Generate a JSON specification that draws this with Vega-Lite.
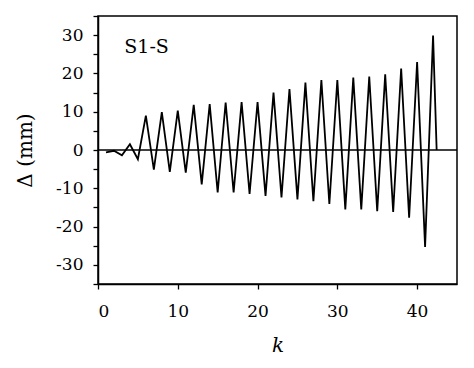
{
  "$schema": "https://vega.github.io/schema/vega-lite/v6.json",
  "width": 359,
  "height": 268,
  "autosize": {"type": "none"},
  "padding": {"left": 98, "top": 16, "right": 17, "bottom": 84},
  "background": "white",
  "config": {
    "view": {"stroke": "black", "strokeWidth": 1.5},
    "font": "DejaVu Serif",
    "axis": {
      "domainColor": "black",
      "domainWidth": 1.5,
      "tickColor": "black",
      "tickWidth": 1.3,
      "tickSize": 5,
      "grid": false,
      "labelFont": "DejaVu Serif",
      "labelFontSize": 17,
      "labelColor": "black",
      "titleFont": "DejaVu Serif",
      "titleFontSize": 20,
      "titleFontWeight": "normal",
      "titleColor": "black"
    }
  },
  "datasets": {
    "disp": [
      {"k": 1, "d": -0.6}, {"k": 2, "d": -0.2}, {"k": 3, "d": -1.4}, {"k": 4, "d": 1.5},
      {"k": 5, "d": -2.4}, {"k": 6, "d": 9.0}, {"k": 7, "d": -5.1}, {"k": 8, "d": 9.9},
      {"k": 9, "d": -5.7}, {"k": 10, "d": 10.3}, {"k": 11, "d": -5.9}, {"k": 12, "d": 11.8},
      {"k": 13, "d": -9.0}, {"k": 14, "d": 12.0}, {"k": 15, "d": -11.1}, {"k": 16, "d": 12.4},
      {"k": 17, "d": -11.1}, {"k": 18, "d": 12.5}, {"k": 19, "d": -11.5}, {"k": 20, "d": 12.5},
      {"k": 21, "d": -12.0}, {"k": 22, "d": 15.0}, {"k": 23, "d": -12.4}, {"k": 24, "d": 15.9},
      {"k": 25, "d": -12.9}, {"k": 26, "d": 17.6}, {"k": 27, "d": -13.4}, {"k": 28, "d": 18.3},
      {"k": 29, "d": -14.1}, {"k": 30, "d": 18.3}, {"k": 31, "d": -15.5}, {"k": 32, "d": 18.9},
      {"k": 33, "d": -15.5}, {"k": 34, "d": 19.2}, {"k": 35, "d": -16.0}, {"k": 36, "d": 19.8},
      {"k": 37, "d": -16.2}, {"k": 38, "d": 21.3}, {"k": 39, "d": -17.7}, {"k": 40, "d": 23.0},
      {"k": 41, "d": -25.3}, {"k": 42, "d": 29.9}, {"k": 42.45, "d": 0}
    ],
    "label": [{"k": 3.3, "d": 27, "text": "S1-S"}],
    "zero": [{"d": 0}]
  },
  "encoding": {
    "y": {
      "field": "d", "type": "quantitative",
      "scale": {"domain": [-35, 35], "nice": false},
      "axis": {
        "title": "Δ (mm)",
        "values": [-35, -30, -25, -20, -15, -10, -5, 0, 5, 10, 15, 20, 25, 30, 35],
        "labelExpr": "datum.value % 10 === 0 ? (datum.value < 0 ? '-' + abs(datum.value) : '' + datum.value) : ''",
        "labelPadding": 10,
        "titlePadding": 20
      }
    }
  },
  "layer": [
    {
      "data": {"name": "zero"},
      "mark": {"type": "rule", "color": "black", "strokeWidth": 1.6}
    },
    {
      "data": {"name": "disp"},
      "mark": {"type": "line", "color": "black", "strokeWidth": 1.8, "clip": true},
      "encoding": {
        "x": {
          "field": "k", "type": "quantitative",
          "scale": {"domain": [0, 45], "nice": false, "zero": false},
          "axis": {
            "title": "k",
            "titleFontStyle": "italic",
            "values": [0, 5, 10, 15, 20, 25, 30, 35, 40, 45],
            "labelExpr": "datum.value % 10 === 0 ? '' + datum.value : ''",
            "labelPadding": 14,
            "titlePadding": 16
          }
        }
      }
    },
    {
      "data": {"name": "label"},
      "mark": {"type": "text", "align": "left", "baseline": "middle", "fontSize": 19, "font": "DejaVu Serif", "color": "black"},
      "encoding": {
        "x": {"field": "k", "type": "quantitative"},
        "text": {"field": "text"}
      }
    }
  ]
}
